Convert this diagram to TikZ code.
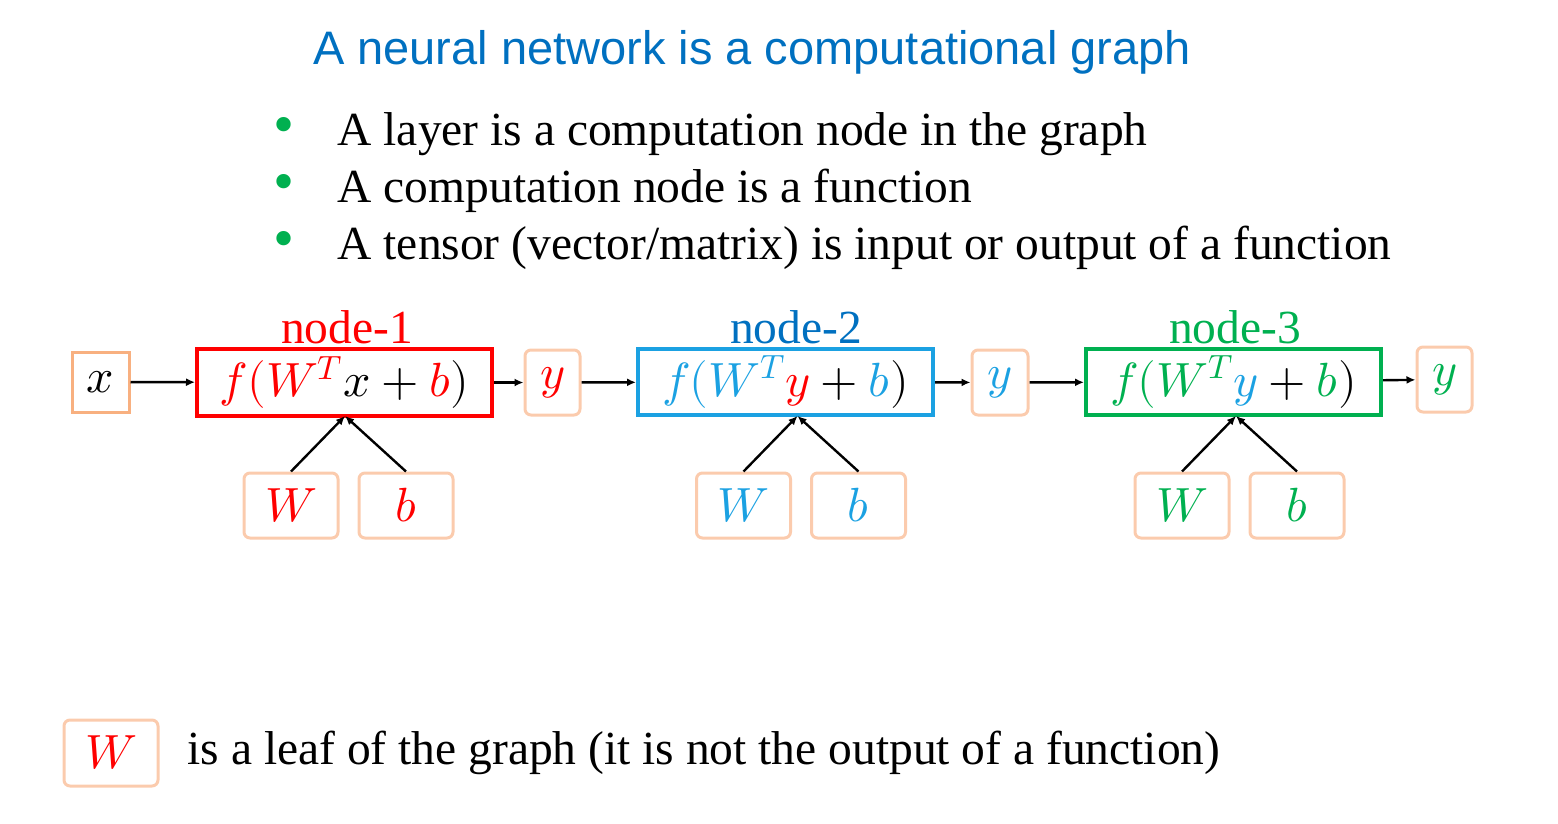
\documentclass[tikz,border=0pt]{standalone}
\usepackage{fontspec}
\usepackage{unicode-math}
\setmathfont{Latin Modern Math}
\setmainfont{Liberation Serif}
\newfontfamily\titlefont{Liberation Sans}
\usetikzlibrary{arrows.meta}
\definecolor{tblue}{RGB}{0,112,192}
\definecolor{nred}{RGB}{255,0,0}
\definecolor{nblue}{RGB}{27,161,226}
\definecolor{ngreen}{RGB}{0,176,80}
\definecolor{peach}{RGB}{251,203,173}
\definecolor{xbox}{RGB}{248,176,128}
\begin{document}
\begin{tikzpicture}[x=1pt,y=-1pt,
  leaf/.style={draw=peach,line width=3pt,rounded corners=6pt,inner sep=0pt},
  fun/.style={line width=4pt,inner sep=0pt},
  arr/.style={-{Latex[length=9pt,width=8pt]},line width=2.4pt},
  txt/.style={font=\fontsize{47.5}{50}\selectfont},
  mth/.style={font=\fontsize{48}{50}\selectfont}]
\useasboundingbox (0,0) rectangle (1558,824);
\node[font=\titlefont\fontsize{47}{50}\selectfont,text=tblue] (title) at (752,52) {A neural network is a computational graph};
\foreach \yy/\t/\n in {134/{A layer is a computation node in the graph}/b1,191/{A computation node is a function}/b2,248/{A tensor (vector/matrix) is input or output of a function}/b3}{
  \node[text=ngreen,font=\fontsize{60}{60}\selectfont] (\n d) at (284,\yy-3) {•};
  \node[txt,anchor=west] (\n) at (334,\yy) {\t};
}
% input
\node[draw=xbox,line width=3pt,minimum width=57pt,minimum height=60pt,inner sep=0pt,mth] (x) at (100.5,382) {$x$};
% node1
\node[fun,draw=nred,minimum width=295pt,minimum height=67pt,mth] (n1) at (344.5,382.5) {$\color{nred}f(W^{\color{nred}T}\color{black}x\color{black}+\color{nred}b\color{black})$};
\node[txt,text=nred] (l1) at (347,327) {node-1};
\node[leaf,minimum width=55pt,minimum height=65pt,mth] (y1) at (552.5,382.5) {$\color{nred}y$};
\node[fun,draw=nblue,minimum width=295pt,minimum height=66pt,mth] (n2) at (785.5,382) {$\color{nblue}f(W^{T}\color{nred}y\color{black}+\color{nblue}b\color{black})$};
\node[txt,text=tblue] (l2) at (796,327) {node-2};
\node[leaf,minimum width=56pt,minimum height=65pt,mth] (y2) at (1000,382.5) {$\color{nblue}y$};
\node[fun,draw=ngreen,minimum width=295pt,minimum height=66pt,mth] (n3) at (1233.5,382) {$\color{ngreen}f(W^{T}\color{nblue}y\color{black}+\color{ngreen}b\color{black})$};
\node[txt,text=ngreen] (l3) at (1235,327) {node-3};
\node[leaf,minimum width=55pt,minimum height=65pt,mth] (y3) at (1444.5,379.5) {$\color{ngreen}y$};
\draw[arr] (x) -- (n1);
\draw[arr] (n1) -- (y1);
\draw[arr] (y1) -- (n2);
\draw[arr] (n2) -- (y2);
\draw[arr] (y2) -- (n3);
\draw[arr] (n3) -- (y3);
% leaves
\foreach \n/\cx/\c in {1/291/nred,2/743.5/nblue,3/1182/ngreen}{
  \node[leaf,minimum width=94pt,minimum height=65pt,mth] (w\n) at (\cx,505.5) {$\color{\c}W$};
  \node[leaf,minimum width=94pt,minimum height=65pt,mth] (bb\n) at (\cx+115,505.5) {$\color{\c}b$};
  \coordinate (t\n) at (\cx+54,416);
  \draw[arr] (w\n.north) -- (t\n);
  \draw[arr] (bb\n.north) -- (t\n);
}
\node[leaf,minimum width=94pt,minimum height=66pt,mth] (lw) at (111,753) {$\color{nred}W$};
\node[txt,anchor=west] (lt) at (184,753) {is a leaf of the graph (it is not the output of a function)};
\end{tikzpicture}
\end{document}
